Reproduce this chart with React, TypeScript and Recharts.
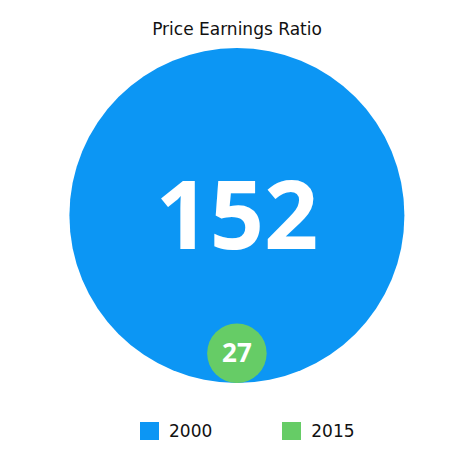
import { BarChart, Bar, XAxis, YAxis, Legend, LabelList } from 'recharts';

const categories = ['Price Earnings Ratio'];
const years = ['2000', '2015'];
const peValues = [152, 27];
const colors = ['#0c96f4', '#66cc66'];
const labelSizes = [95, 26];

const data = categories.map((name) => ({
  name,
  [years[0]]: peValues[0],
  [years[1]]: peValues[1],
}));

// bar rect -> circle sitting on the baseline, diameter = bar height
const circleShape = (fill: string) => (props: any) => {
  const { x, y, width, height } = props;
  const r = height / 2;
  return <circle cx={x + width / 2} cy={y + r} r={r} fill={fill} />;
};

const renderLegend = () => (
  <div style={{ display: 'flex', paddingLeft: 140, fontFamily: 'DejaVu Sans', fontSize: 17, color: '#111' }}>
    {years.map((yr, i) => (
      <div key={yr} style={{ display: 'flex', alignItems: 'center', marginRight: 70 }}>
        <span style={{ width: 19, height: 18, background: colors[i], marginRight: 10 }} />
        <span>{yr}</span>
      </div>
    ))}
  </div>
);

export default function App() {
  return (
    <div style={{ position: 'absolute', left: 0, top: 0, width: 474, height: 469, background: '#fff' }}>
      <BarChart width={474} height={469} data={data} margin={{ top: 48, right: 0, bottom: 86, left: 0 }}>
        <text x={237} y={35} textAnchor="middle" fontFamily="DejaVu Sans" fontSize={17} fill="#111">
          {categories[0]}
        </text>
        <XAxis xAxisId="a" dataKey="name" hide />
        <XAxis xAxisId="b" dataKey="name" hide />
        <YAxis hide domain={[0, peValues[0]]} />
        {years.map((yr, i) => (
          <Bar
            key={yr}
            xAxisId={i === 0 ? 'a' : 'b'}
            dataKey={yr}
            fill={colors[i]}
            shape={circleShape(colors[i])}
            isAnimationActive={false}
          >
            <LabelList
              dataKey={yr}
              position="center"
              fill="#fff"
              fontFamily="Open Sans"
              fontWeight={700}
              fontSize={labelSizes[i]}
            />
          </Bar>
        ))}
        <Legend
          layout="horizontal"
          verticalAlign="middle"
          align="center"
          content={renderLegend}
          wrapperStyle={{ top: 421, left: 0, width: 474 }}
        />
      </BarChart>
    </div>
  );
}
